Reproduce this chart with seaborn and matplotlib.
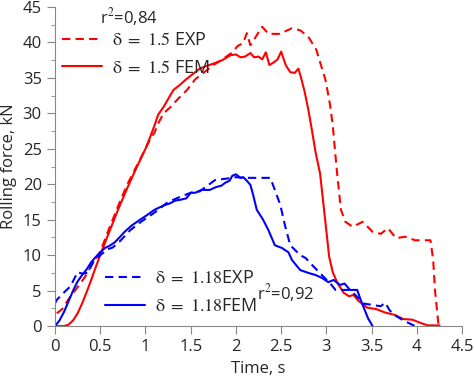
import numpy as np
import pandas as pd
import matplotlib
matplotlib.use("Agg")
import matplotlib.pyplot as plt
from matplotlib.ticker import MultipleLocator
import seaborn as sns

# delta = 1.5, experiment (dashed red)
t_exp15 = [0.02, 0.08, 0.15, 0.25, 0.33, 0.42, 0.5, 0.6, 0.7, 0.8, 0.9, 1.0, 1.05, 1.1,
           1.15, 1.2, 1.27, 1.35, 1.46, 1.55, 1.64, 1.75, 1.85, 1.95, 2.02, 2.08, 2.12,
           2.16, 2.21, 2.29, 2.36, 2.49, 2.55, 2.62, 2.71, 2.8, 2.89, 2.93, 2.99, 3.04,
           3.07, 3.1, 3.12, 3.16, 3.21, 3.29, 3.4, 3.51, 3.6, 3.68, 3.77, 3.87, 3.98, 4.15,
           4.18, 4.2, 4.24]
f_exp15 = [1.8, 2.4, 3.8, 5.5, 6.9, 8.9, 10.5, 13.8, 17.0, 20.0, 22.5, 25.0, 26.3, 27.3,
           28.8, 30.0, 30.8, 31.9, 33.3, 34.8, 35.7, 36.8, 37.6, 38.5, 39.5, 39.9, 41.3,
           39.6, 40.6, 42.2, 41.2, 41.2, 41.6, 42.0, 41.7, 40.8, 38.9, 37.2, 34.7, 31.2,
           28.3, 24.0, 21.3, 16.4, 14.7, 14.0, 14.7, 13.3, 13.0, 13.8, 12.4, 12.6, 12.1,
           12.1, 9.3, 5.0, 0.0]

# delta = 1.5, FEM (solid red)
t_fem15 = [0.0, 0.1, 0.15, 0.2, 0.25, 0.3, 0.35, 0.4, 0.45, 0.5, 0.6, 0.7, 0.8, 0.9, 1.0,
           1.05, 1.1, 1.14, 1.2, 1.25, 1.31, 1.38, 1.45, 1.52, 1.6, 1.68, 1.75, 1.85, 1.94,
           2.0, 2.05, 2.1, 2.16, 2.2, 2.25, 2.29, 2.33, 2.37, 2.42, 2.46, 2.5, 2.55, 2.6,
           2.65, 2.69, 2.72, 2.76, 2.8, 2.84, 2.88, 2.93, 2.96, 2.99, 3.03, 3.07, 3.12,
           3.19, 3.25, 3.3, 3.35, 3.45, 3.55, 3.65, 3.75, 3.85, 3.95, 4.05, 4.12, 4.25]
f_fem15 = [0.0, 0.0, 0.2, 0.8, 1.8, 3.2, 4.8, 6.5, 8.3, 10.0, 13.3, 16.5, 19.5, 22.3, 25.0,
           26.6, 28.3, 29.8, 30.9, 32.0, 33.3, 34.0, 34.8, 35.5, 36.3, 36.7, 37.0, 37.5,
           38.2, 38.3, 37.9, 38.0, 38.5, 37.9, 38.0, 37.6, 38.6, 36.8, 37.2, 37.6, 38.7,
           36.8, 35.8, 35.7, 36.3, 35.0, 33.0, 30.5, 27.6, 24.5, 21.5, 18.0, 14.5, 9.8,
           7.6, 6.1, 4.7, 4.2, 4.4, 3.6, 2.6, 2.4, 1.9, 1.6, 1.0, 0.9, 0.4, 0.1, 0.1]

# delta = 1.18, experiment (dashed blue)
t_exp118 = [0.0, 0.02, 0.08, 0.17, 0.25, 0.3, 0.36, 0.42, 0.5, 0.58, 0.64, 0.72, 0.83,
            0.95, 1.1, 1.25, 1.38, 1.5, 1.6, 1.77, 1.9, 2.0, 2.08, 2.38, 2.43, 2.49, 2.54,
            2.6, 2.71, 2.77, 2.85, 2.95, 3.05, 3.1, 3.26, 3.35, 3.4, 3.5, 3.6, 3.65, 3.7,
            3.76, 3.85, 3.98]
f_exp118 = [3.2, 3.7, 4.5, 5.6, 7.6, 7.4, 7.5, 9.0, 10.0, 10.8, 11.1, 12.0, 13.5,
            14.7, 16.0, 17.5, 18.2, 18.8, 19.0, 20.6, 20.8, 21.0, 20.9, 20.9, 19.2, 17.1,
            14.3, 11.4, 10.0, 9.6, 8.5, 7.2, 5.9, 5.1, 5.1, 4.0, 3.2, 3.0, 2.8, 3.3, 2.2,
            1.5, 0.8, 0.0]

# delta = 1.18, FEM (solid blue)
t_fem118 = [0.0, 0.05, 0.1, 0.15, 0.2, 0.25, 0.3, 0.35, 0.4, 0.44, 0.5, 0.55, 0.6, 0.66,
            0.72, 0.77, 0.85, 0.94, 1.0, 1.1, 1.2, 1.27, 1.33, 1.38, 1.45, 1.5, 1.55, 1.62,
            1.71, 1.78, 1.84, 1.88, 1.93, 1.96, 2.0, 2.05, 2.08, 2.12, 2.16, 2.19, 2.23,
            2.3, 2.36, 2.43, 2.51, 2.58, 2.62, 2.71, 2.8, 2.88, 2.95, 3.02, 3.08, 3.15,
            3.2, 3.26, 3.34, 3.37, 3.4, 3.46, 3.51]
f_fem118 = [0.0, 0.8, 2.0, 3.5, 5.0, 6.3, 7.2, 8.0, 9.0, 9.6, 10.4, 11.0, 11.3, 11.8,
            12.6, 13.3, 14.2, 15.0, 15.5, 16.4, 17.0, 17.3, 17.7, 17.8, 18.0, 18.8, 18.8,
            19.2, 19.2, 19.6, 19.8, 20.2, 20.5, 21.2, 21.4, 20.9, 21.0, 20.5, 19.9, 18.5,
            16.4, 15.0, 13.5, 11.4, 11.0, 10.4, 9.3, 7.9, 7.5, 7.2, 6.8, 6.2, 6.5, 5.8,
            6.0, 5.1, 5.1, 4.0, 3.0, 1.1, 0.0]

xticks = [0, 0.5, 1, 1.5, 2, 2.5, 3, 3.5, 4, 4.5]
xtick_labels = ["0", "0.5", "1", "1.5", "2", "2.5", "3", "3.5", "4", "4.5"]
yticks = [0, 5, 10, 15, 20, 25, 30, 35, 40, 45]

sns.set_style("ticks")
plt.rcParams["font.family"] = ["Open Sans", "DejaVu Sans"]
plt.rcParams["mathtext.fontset"] = "stix"

fig = plt.figure(figsize=(4.74, 3.85), dpi=100)
ax = fig.add_axes([0.116, 0.153, 0.859, 0.829])

red = "#ff0000"
blue = "#0000ff"
dash = (0, (4, 2.5))
sns.lineplot(x=t_exp15, y=f_exp15, ax=ax, color=red, lw=1.5, sort=False,
             estimator=None, linestyle=dash)
sns.lineplot(x=t_fem15, y=f_fem15, ax=ax, color=red, lw=1.5, sort=False, estimator=None)
sns.lineplot(x=t_exp118, y=f_exp118, ax=ax, color=blue, lw=1.5, sort=False,
             estimator=None, linestyle=dash)
sns.lineplot(x=t_fem118, y=f_fem118, ax=ax, color=blue, lw=1.5, sort=False, estimator=None)

lines = ax.get_lines()
leg_kw = dict(frameon=False, handlelength=2.2, handletextpad=0.55, labelspacing=0.55,
              borderpad=0, borderaxespad=0, prop={"size": 13})
leg1 = ax.legend(lines[:2], [r"$\mathrm{\delta}\ =\ 1.5$ EXP", r"$\mathrm{\delta}\ =\ 1.5$ FEM"],
                 loc="upper left", bbox_to_anchor=(0.017, 0.925), **leg_kw)
ax.add_artist(leg1)
leg2 = ax.legend(lines[2:], [r"$\mathrm{\delta}\ =\ 1.18$EXP", r"$\mathrm{\delta}\ =\ 1.18$FEM"],
                 loc="lower left", bbox_to_anchor=(0.123, 0.034), **leg_kw)

ax.text(0.5, 43.6, "r$^2$=0,84", fontsize=12, va="center", ha="left")
ax.text(2.23, 4.6, "r$^2$=0,92", fontsize=12, va="center", ha="left")

ax.set_xlim(0, 4.5)
ax.set_ylim(0, 45)
ax.set_xticks(xticks)
ax.set_xticklabels(xtick_labels)
ax.set_yticks(yticks)
ax.yaxis.set_minor_locator(MultipleLocator(2.5))
ax.tick_params(axis="both", which="major", labelsize=12, length=6, color="#888888", direction="out")
ax.tick_params(axis="y", which="minor", length=3, color="#888888")
ax.set_xlabel("Time, s", fontsize=12, labelpad=4)
ax.set_ylabel("Rolling force, kN", fontsize=12, labelpad=4)
for s in ["left", "bottom"]:
    ax.spines[s].set_color("#888888")
sns.despine(ax=ax)

fig.savefig("out.png", dpi=100)
